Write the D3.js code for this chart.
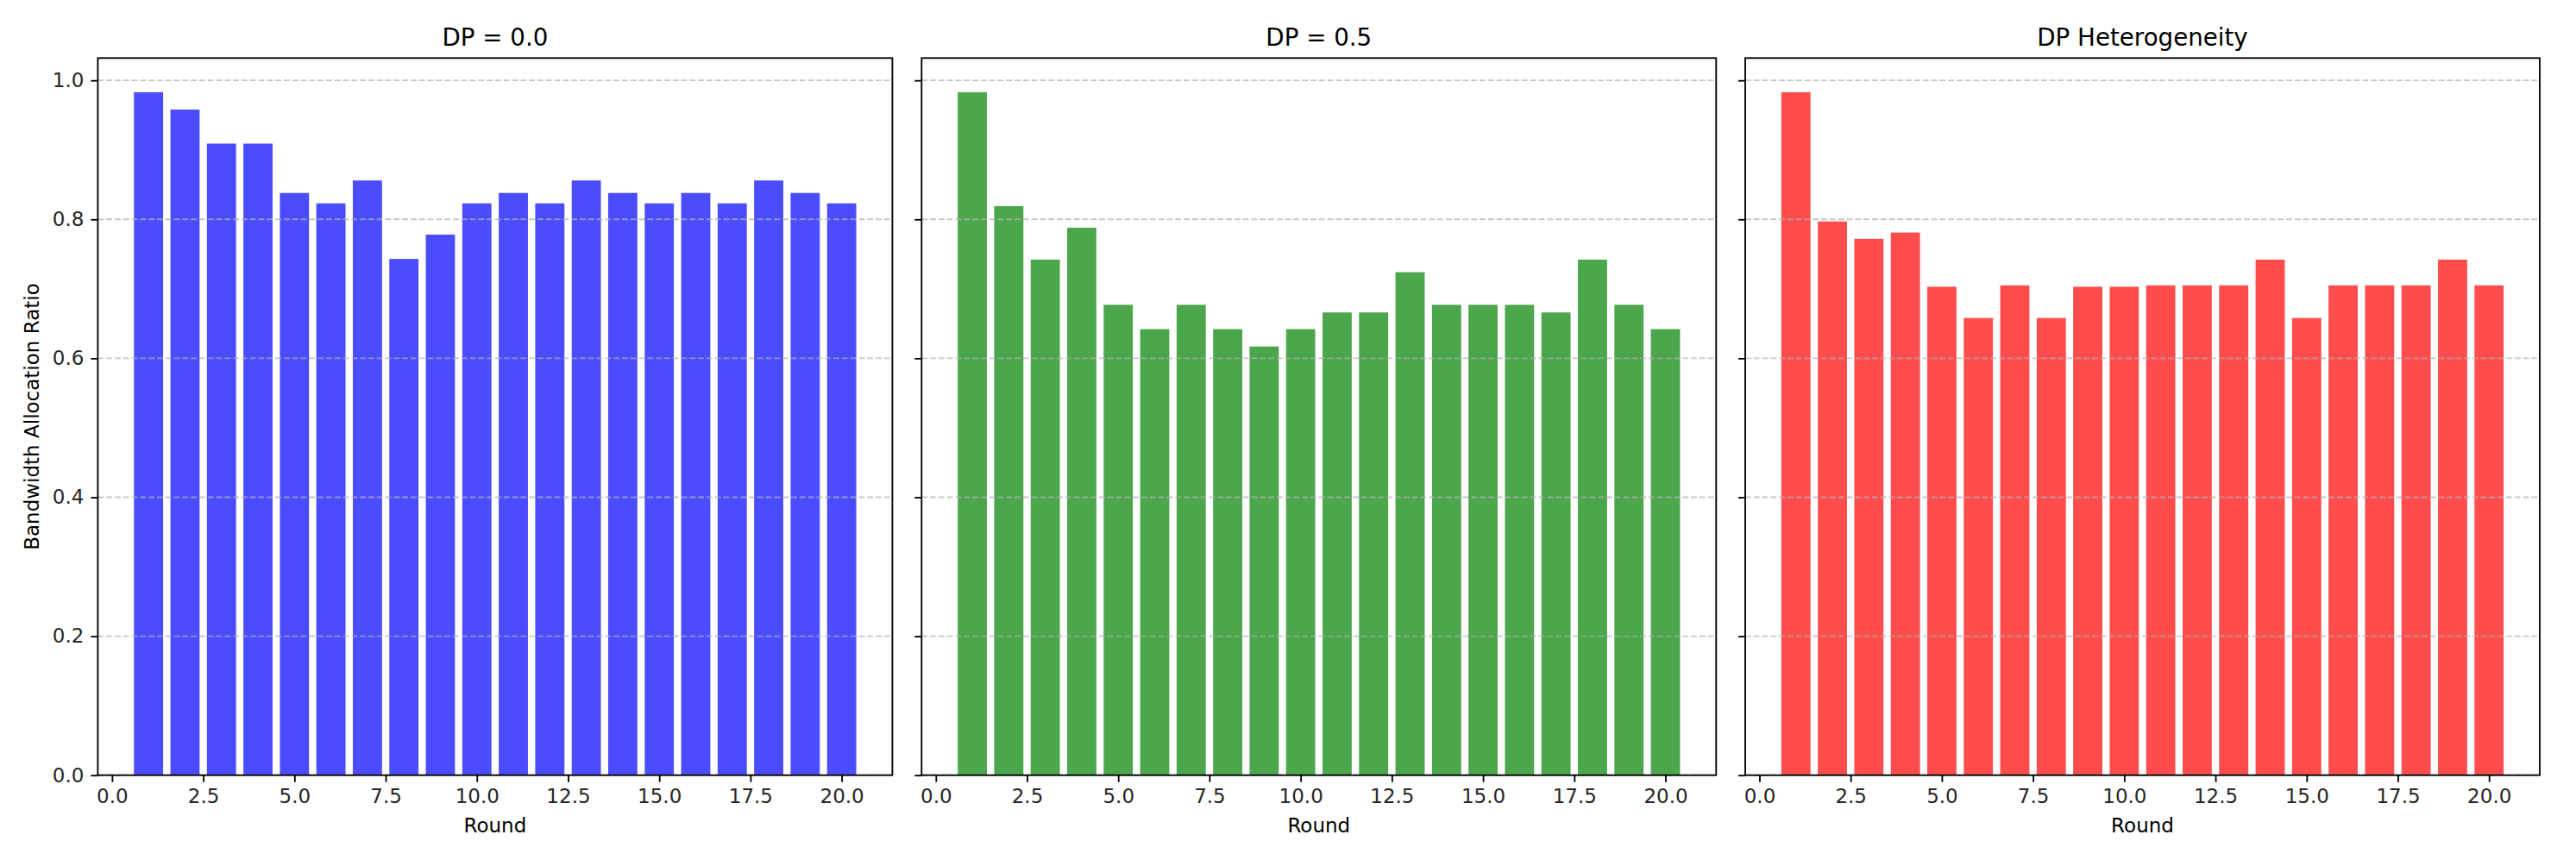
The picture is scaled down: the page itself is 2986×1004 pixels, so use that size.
<!DOCTYPE html>
<html>
<head>
<meta charset="utf-8">
<script src="https://cdn.jsdelivr.net/npm/d3@7"></script>
<style>
  body { margin: 0; background: #fff; }
  svg { display: block; font-family: "DejaVu Sans", sans-serif; }
</style>
</head>
<body>
<div class="chart"></div>
<script>
// rounds 1..20
var rounds = d3.range(1, 21);

// bandwidth allocation ratio per round
var dp00 = [0.983, 0.958, 0.909, 0.909, 0.838, 0.823, 0.856, 0.743, 0.778, 0.823,
            0.838, 0.823, 0.856, 0.838, 0.823, 0.838, 0.823, 0.856, 0.838, 0.823];
var dp05 = [0.983, 0.819, 0.742, 0.788, 0.677, 0.642, 0.677, 0.642, 0.617, 0.642,
            0.666, 0.666, 0.724, 0.677, 0.677, 0.677, 0.666, 0.742, 0.677, 0.642];
var dpHet = [0.983, 0.797, 0.772, 0.781, 0.703, 0.658, 0.705, 0.658, 0.703, 0.703,
             0.705, 0.705, 0.705, 0.742, 0.658, 0.705, 0.705, 0.705, 0.742, 0.705];

var titles = ["DP = 0.0", "DP = 0.5", "DP Heterogeneity"];
var colours = ["blue", "green", "red"];
var series = [dp00, dp05, dpHet];

var xTicks = [0, 2.5, 5, 7.5, 10, 12.5, 15, 17.5, 20];
var yTicks = [0, 0.2, 0.4, 0.6, 0.8, 1.0];

// layout (plotTop, not "top": that one is a window global)
var width = 2986, height = 1004;
var plotTop = 67.3, plotBottom = 898.7;
var panelLefts = [113.4, 1068.3, 2023];
var panelWidth = 921;
var fontSize = 23;

var svg = d3.select(".chart").append("svg")
  .attr("width", width)
  .attr("height", height);

// shared y scale (sharey)
var yMax = d3.max([].concat(dp00, dp05, dpHet)) * 1.05;
var y = d3.scaleLinear().domain([0, yMax]).range([plotBottom, plotTop]);

series.forEach(function(values, p) {
  var left = panelLefts[p];
  var x = d3.scaleLinear().domain([0.6 - 0.99, 20.4 + 0.99]).range([left, left + panelWidth]);

  var g = svg.append("g");

  // bars
  g.selectAll(".bar")
    .data(values)
    .enter()
    .append("rect")
    .attr("x", function(d, i) { return x(rounds[i] - 0.4); })
    .attr("width", function(d, i) { return x(rounds[i] + 0.4) - x(rounds[i] - 0.4); })
    .attr("y", function(d) { return y(d); })
    .attr("height", function(d) { return y(0) - y(d); })
    .attr("fill", colours[p])
    .attr("fill-opacity", 0.7);

  // dashed grid on top of the bars
  g.selectAll(".grid")
    .data(yTicks)
    .enter()
    .append("line")
    .attr("x1", left)
    .attr("x2", left + panelWidth)
    .attr("y1", function(d) { return y(d); })
    .attr("y2", function(d) { return y(d); })
    .attr("stroke", "#b0b0b0")
    .attr("stroke-opacity", 0.7)
    .attr("stroke-width", 1.85)
    .attr("stroke-dasharray", "6.8,3");

  // x axis
  var xAxis = d3.axisBottom(x)
    .tickValues(xTicks)
    .tickSize(8)
    .tickPadding(8)
    .tickFormat(d3.format(".1f"));
  var gx = g.append("g")
    .attr("transform", "translate(0," + plotBottom + ")")
    .call(xAxis);
  gx.select(".domain").remove();
  gx.selectAll(".tick line").attr("stroke", "#000").attr("stroke-width", 1.85);
  gx.selectAll(".tick text")
    .attr("font-size", fontSize)
    .attr("font-family", "DejaVu Sans")
    .attr("fill", "#262626")
    .attr("dy", "0.71em");

  // y axis, labels only on the first panel
  var yAxis = d3.axisLeft(y)
    .tickValues(yTicks)
    .tickSize(8)
    .tickPadding(8)
    .tickFormat(p === 0 ? d3.format(".1f") : function() { return ""; });
  var gy = g.append("g")
    .attr("transform", "translate(" + left + ",0)")
    .call(yAxis);
  gy.select(".domain").remove();
  gy.selectAll(".tick line").attr("stroke", "#000").attr("stroke-width", 1.85);
  gy.selectAll(".tick text")
    .attr("font-size", fontSize)
    .attr("font-family", "DejaVu Sans")
    .attr("fill", "#262626");

  // frame
  g.append("rect")
    .attr("x", left)
    .attr("y", plotTop)
    .attr("width", panelWidth)
    .attr("height", plotBottom - plotTop)
    .attr("fill", "none")
    .attr("stroke", "#000")
    .attr("stroke-width", 1.85);

  // title
  g.append("text")
    .attr("x", left + panelWidth / 2)
    .attr("y", plotTop - 14)
    .attr("text-anchor", "middle")
    .attr("font-size", 27.7)
    .attr("fill", "#000")
    .text(titles[p]);

  // x label
  g.append("text")
    .attr("x", left + panelWidth / 2)
    .attr("y", 965)
    .attr("text-anchor", "middle")
    .attr("font-size", fontSize)
    .attr("fill", "#000")
    .text("Round");
});

// y label
svg.append("text")
  .attr("transform", "translate(45," + (plotTop + plotBottom) / 2 + ") rotate(-90)")
  .attr("text-anchor", "middle")
  .attr("font-size", fontSize)
  .attr("fill", "#000")
  .text("Bandwidth Allocation Ratio");
</script>
</body>
</html>
